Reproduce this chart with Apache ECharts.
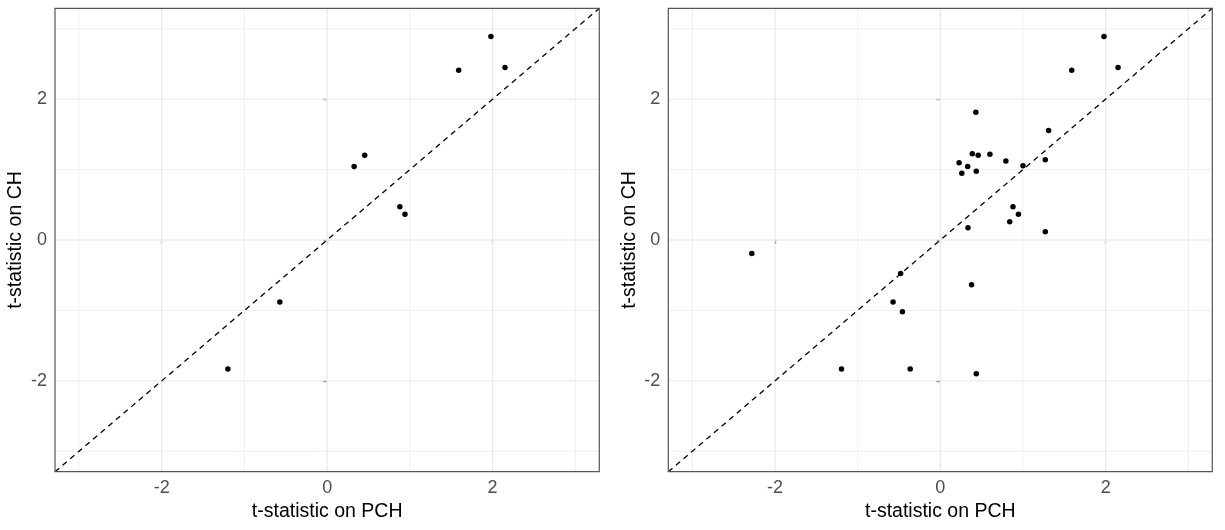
<!DOCTYPE html>
<html>
<head>
<meta charset="utf-8">
<script src="https://cdn.jsdelivr.net/npm/echarts@6/dist/echarts.min.js"></script>
<style>html,body{margin:0;padding:0;background:#fff}#c{width:1225px;height:530px}</style>
</head>
<body>
<div id="c"></div>
<script>
// Axis limits and ticks
const axisMin = -3.29, axisMax = 3.29;
const majorTicks = [-2, 0, 2];
const minorTicks = [-3, -1, 1, 3];
const xTitle = 't-statistic on PCH';
const yTitle = 't-statistic on CH';

// Left panel points (PCH t-stat, CH t-stat)
const leftPCH = [1.98, 1.59, 2.15, 0.454, 0.326, 0.879, 0.941, -0.572, -1.20];
const leftCH  = [2.89, 2.41, 2.45, 1.203, 1.045, 0.472, 0.366, -0.881, -1.83];

// Right panel points
const rightPCH = [1.98, 1.59, 2.15, 0.43, 1.31, 0.387, 0.458, 0.60, 0.793, 1.27, 0.227, 0.331, 1.00, 0.26, 0.435,
                  0.879, 0.945, 0.84, 0.335, 1.27, -2.28, -0.48, 0.378, -0.571, -0.458, -1.195, -0.364, 0.435];
const rightCH  = [2.89, 2.41, 2.45, 1.815, 1.555, 1.223, 1.203, 1.218, 1.12, 1.14, 1.097, 1.045, 1.054, 0.948, 0.977,
                  0.472, 0.366, 0.26, 0.173, 0.116, -0.193, -0.477, -0.635, -0.881, -1.02, -1.83, -1.83, -1.90];

const zip = (a, b) => a.map((v, i) => [v, b[i]]);

const font = 'Liberation Sans, Arial, Helvetica, sans-serif';
const grids = [
  {left: 55, top: 8.3, width: 544.3, height: 463.4},
  {left: 668.3, top: 8.3, width: 544, height: 463.4}
];

const option = {
  animation: false,
  grid: grids.map(g => Object.assign({show: true, borderColor: '#555', borderWidth: 1.2, backgroundColor: 'transparent', z: 5}, g)),
  xAxis: [0, 1].map(i => ({
    type: 'value', gridIndex: i, min: axisMin, max: axisMax,
    name: xTitle, nameLocation: 'middle', nameGap: 27,
    nameTextStyle: {fontFamily: font, fontSize: 19.5, color: '#000'},
    axisLine: {show: false},
    axisTick: {show: true, length: 4, lineStyle: {color: '#333', width: 1.2}, customValues: majorTicks},
    axisLabel: {fontFamily: font, fontSize: 18, color: '#4D4D4D', margin: 7, customValues: majorTicks},
    splitLine: {show: false}
  })),
  yAxis: [0, 1].map(i => ({
    type: 'value', gridIndex: i, min: axisMin, max: axisMax,
    name: yTitle, nameLocation: 'middle', nameGap: 29,
    nameTextStyle: {fontFamily: font, fontSize: 19.5, color: '#000'},
    axisLine: {show: false},
    axisTick: {show: true, length: 4, lineStyle: {color: '#333', width: 1.2}, customValues: majorTicks},
    axisLabel: {fontFamily: font, fontSize: 18, color: '#4D4D4D', margin: 8, customValues: majorTicks},
    splitLine: {show: false}
  })),
  series: []
};

// gridline data: [value, isMajor]
const gridData = minorTicks.map(v => [v, 0]).concat(majorTicks.map(v => [v, 1]));

function renderGrid(params, api) {
  const v = api.value(0), major = api.value(1);
  const lo = api.coord([axisMin, axisMin]);
  const hi = api.coord([axisMax, axisMax]);
  const p = api.coord([v, v]);
  const style = {stroke: '#EBEBEB', lineWidth: major ? 1.4 : 0.8};
  return {
    type: 'group',
    children: [
      {type: 'line', shape: {x1: p[0], y1: lo[1], x2: p[0], y2: hi[1]}, style: style, silent: true},
      {type: 'line', shape: {x1: lo[0], y1: p[1], x2: hi[0], y2: p[1]}, style: style, silent: true}
    ]
  };
}

[0, 1].forEach(i => {
  option.series.push({
    type: 'custom', xAxisIndex: i, yAxisIndex: i, z: 1, silent: true,
    renderItem: renderGrid, data: gridData, encode: {x: 0, y: 0}
  });
  option.series.push({
    type: 'line', xAxisIndex: i, yAxisIndex: i, z: 2, silent: true, showSymbol: false,
    emphasis: {disabled: true},
    data: [[axisMin, axisMin], [axisMax, axisMax]],
    lineStyle: {color: '#000', width: 1.3, type: [5.5, 4.5]}
  });
  option.series.push({
    type: 'scatter', xAxisIndex: i, yAxisIndex: i, z: 3, symbolSize: 5.5,
    itemStyle: {color: '#000', opacity: 1},
    data: i === 0 ? zip(leftPCH, leftCH) : zip(rightPCH, rightCH)
  });
});

const chart = echarts.init(document.getElementById('c'), null, {renderer: 'canvas'});
chart.setOption(option);
</script>
</body>
</html>
